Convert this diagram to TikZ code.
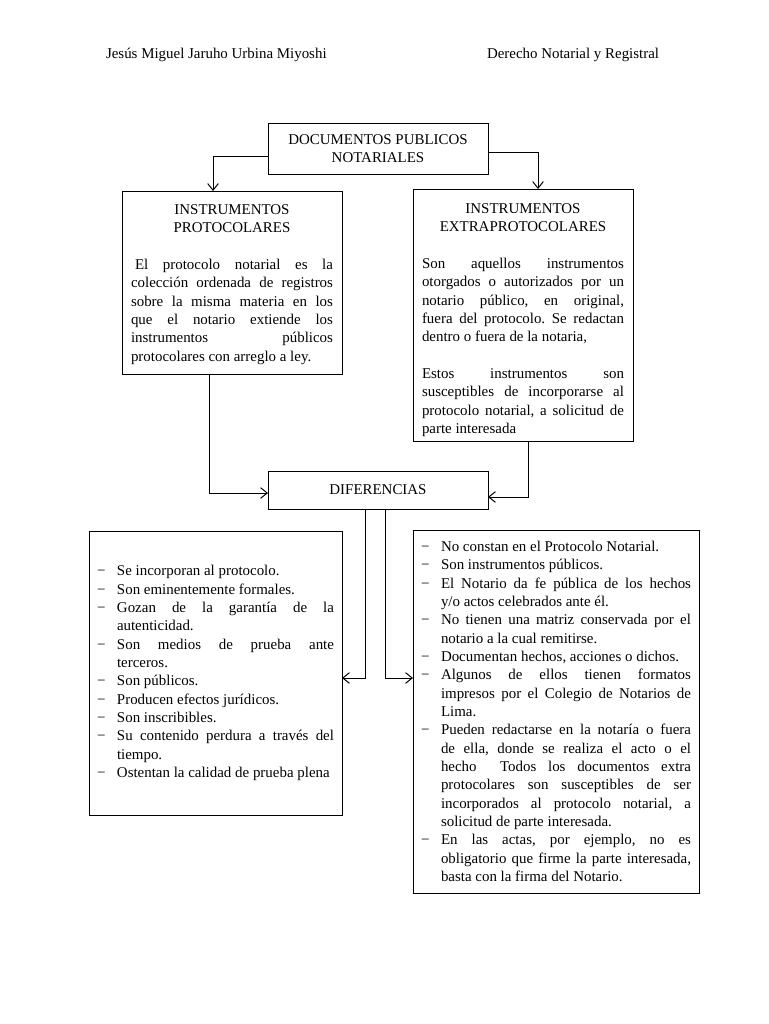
\documentclass[tikz,border=0pt]{standalone}
\usepackage{fontspec}
\setmainfont{Liberation Serif}
\usetikzlibrary{arrows.meta,calc}
\frenchspacing
% explicit line macros (used inside a \vbox with fixed \hsize)
\newcommand{\jsp}{\spaceskip=\fontdimen2\font plus 1fil\relax}
\newcommand{\lnJ}[1]{\hbox to \hsize{\jsp #1}}
\newcommand{\lnR}[1]{\hbox to \hsize{#1\hfil}}
\newcommand{\lnC}[1]{\hbox to \hsize{\hfil#1\hfil}}
\newcommand{\lnB}{\hbox{}}
\newcommand{\itJ}[1]{\hbox to \hsize{\hbox to 15pt{−\hfil}\jsp #1}}
\newcommand{\itR}[1]{\hbox to \hsize{\hbox to 15pt{−\hfil}#1\hfil}}
\newcommand{\coJ}[1]{\hbox to \hsize{\hskip15pt\jsp #1}}
\newcommand{\coR}[1]{\hbox to \hsize{\hskip15pt #1\hfil}}
\begin{document}
\begin{tikzpicture}[x=0.75pt,y=-0.75pt,
  every node/.style={font=\fontsize{11.2}{13.75}\selectfont\frenchspacing, outer sep=0pt},
  boxnode/.style={draw=black, line width=0.75pt, rectangle},
  arr/.style={line width=0.75pt, -{Straight Barb[length=5pt,width=8pt]}}]
\useasboundingbox (0,0) rectangle (768,1024);
% header
\node[anchor=base west, inner sep=0pt] (hdrL) at (106,59) {Jesús Miguel Jaruho Urbina Miyoshi};
\node[anchor=base west, inner sep=0pt] (hdrR) at (487,59) {Derecho Notarial y Registral};
% boxes
\node[boxnode, align=center, minimum width=165pt, minimum height=38.25pt] (top) at (378,148.5)
  {DOCUMENTOS PUBLICOS\\NOTARIALES};
\node[boxnode, inner xsep=6.75pt, minimum width=165pt, minimum height=137.25pt] (left) at (232,282.5)
  {\vbox{\hsize=151.5pt
   \vskip3pt
   \lnC{INSTRUMENTOS}
   \lnC{PROTOCOLARES}
   \lnB
   \lnJ{\hskip3pt El protocolo notarial es la}
   \lnJ{colección ordenada de registros}
   \lnJ{sobre la misma materia en los}
   \lnJ{que el notario extiende los}
   \lnJ{instrumentos públicos}
   \lnR{protocolares con arreglo a ley.}}};
\node[boxnode, inner xsep=6.75pt, minimum width=165pt, minimum height=189pt] (right) at (523,315)
  {\vbox{\hsize=151.5pt
   \vskip7.5pt
   \lnC{INSTRUMENTOS}
   \lnC{EXTRAPROTOCOLARES}
   \lnB
   \lnJ{Son aquellos instrumentos}
   \lnJ{otorgados o autorizados por un}
   \lnJ{notario público, en original,}
   \lnJ{fuera del protocolo. Se redactan}
   \lnR{dentro o fuera de la notaria,}
   \lnB
   \lnJ{Estos instrumentos son}
   \lnJ{susceptibles de incorporarse al}
   \lnJ{protocolo notarial, a solicitud de}
   \lnR{parte interesada}}};
\node[boxnode, minimum width=165pt, minimum height=28.5pt] (dif) at (378,490) {DIFERENCIAS};
\node[boxnode, inner xsep=6pt, minimum width=189.75pt, minimum height=213pt] (bl) at (215.5,673)
  {\vbox{\hsize=177.75pt
   \itR{Se incorporan al protocolo.}
   \itR{Son eminentemente formales.}
   \itJ{Gozan de la garantía de la}
   \coR{autenticidad.}
   \itJ{Son medios de prueba ante}
   \coR{terceros.}
   \itR{Son públicos.}
   \itR{Producen efectos jurídicos.}
   \itR{Son inscribibles.}
   \itJ{Su contenido perdura a través del}
   \coR{tiempo.}
   \itR{Ostentan la calidad de prueba plena}}};
\node[boxnode, inner xsep=6pt, minimum width=214.5pt, minimum height=272.25pt] (br) at (556,711.5)
  {\vbox{\hsize=202.5pt
   \itR{No constan en el Protocolo Notarial.}
   \itR{Son instrumentos públicos.}
   \itJ{El Notario da fe pública de los hechos}
   \coR{y/o actos celebrados ante él.}
   \itJ{No tienen una matriz conservada por el}
   \coR{notario a la cual remitirse.}
   \itR{Documentan hechos, acciones o dichos.}
   \itJ{Algunos de ellos tienen formatos}
   \coJ{impresos por el Colegio de Notarios de}
   \coR{Lima.}
   \itJ{Pueden redactarse en la notaría o fuera}
   \coJ{de ella, donde se realiza el acto o el}
   \coJ{hecho\ \ Todos los documentos extra}
   \coJ{protocolares son susceptibles de ser}
   \coJ{incorporados al protocolo notarial, a}
   \coR{solicitud de parte interesada.}
   \itJ{En las actas, por ejemplo, no es}
   \coJ{obligatorio que firme la parte interesada,}
   \coR{basta con la firma del Notario.}}};
% connectors
\draw[arr] ($(top.west)+(0,7.5)$) -| ($(left.north)+(-19,0)$);
\draw[arr] ($(top.east)+(0,3.5)$) -| ($(right.north)+(15,0)$);
\draw[arr] ($(left.south)+(-23,0)$) |- ($(dif.west)+(0,3)$);
\draw[arr] ($(right.south)+(5,0)$) |- ($(dif.east)+(0,7)$);
\draw[arr] ($(dif.south)+(-13,0)$) |- ($(bl.east)+(0,5)$);
\draw[arr] ($(dif.south)+(7,0)$) |- ($(br.west)+(0,-33.5)$);
\end{tikzpicture}
\end{document}
